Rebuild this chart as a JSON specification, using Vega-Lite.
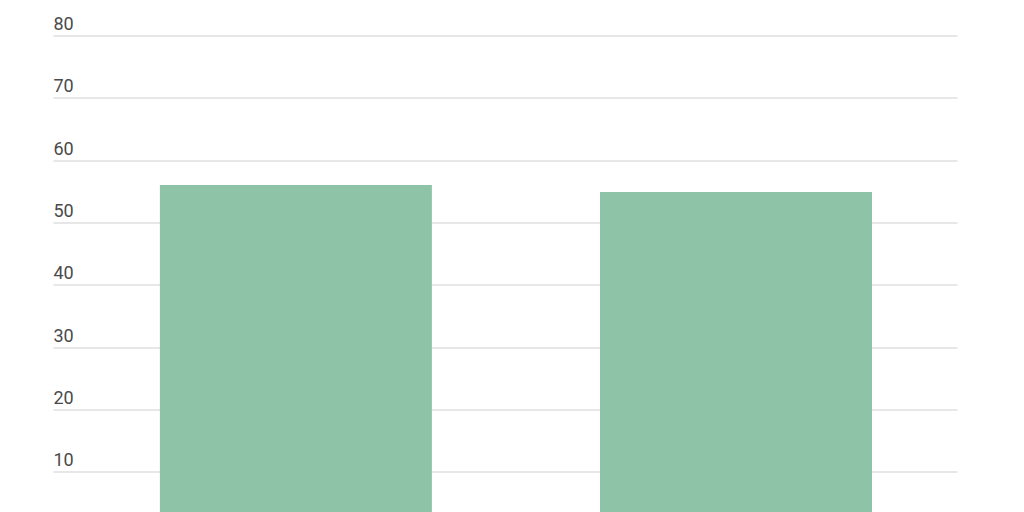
{
  "$schema": "https://vega.github.io/schema/vega-lite/v6.json",
  "autosize": {"type": "none"},
  "padding": {"left": 53, "top": 35.5, "right": 67, "bottom": 0},
  "width": 904,
  "height": 498.5,
  "background": "#ffffff",
  "config": {
    "view": {"stroke": null},
    "font": "Roboto"
  },
  "data": {
    "values": [
      {"group": "A", "value": 56.0},
      {"group": "B", "value": 54.9}
    ]
  },
  "mark": {"type": "bar", "color": "#8ec3a7"},
  "encoding": {
    "x": {
      "field": "group",
      "type": "nominal",
      "axis": null,
      "scale": {"paddingInner": 0.382, "paddingOuter": 0.218, "align": 0.557}
    },
    "y": {
      "field": "value",
      "type": "quantitative",
      "scale": {"domain": [0, 80], "nice": false},
      "axis": {
        "title": null,
        "values": [10, 20, 30, 40, 50, 60, 70, 80],
        "domain": false,
        "ticks": false,
        "tickSize": 0,
        "labelPadding": 0,
        "labelAlign": "left",
        "labelBaseline": "alphabetic",
        "labelOffset": -6,
        "labelFontSize": 18,
        "labelColor": "#4a4a4a",
        "labelFont": "Roboto",
        "gridColor": "#dfdfdf",
        "gridWidth": 1.5
      }
    }
  }
}
